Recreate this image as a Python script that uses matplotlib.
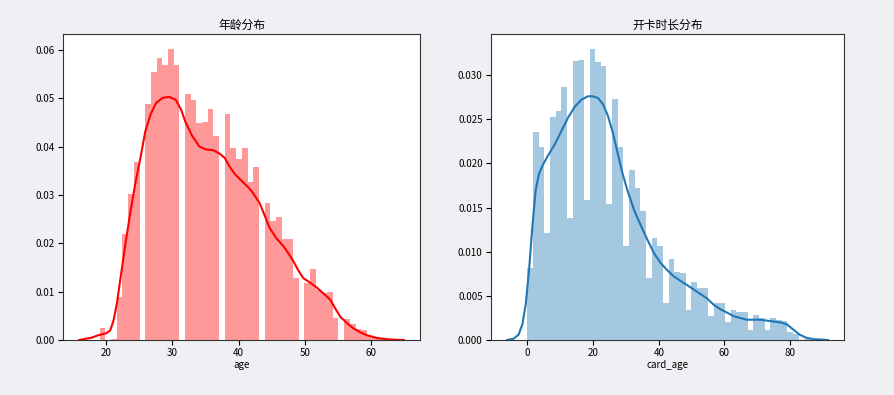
import numpy as np
import matplotlib
matplotlib.use('Agg')
import matplotlib.pyplot as plt

plt.rcParams['font.family'] = ['Noto Sans CJK SC', 'DejaVu Sans']
plt.rcParams['axes.unicode_minus'] = False

# 年龄直方图 (50 bins, 19 ~ 62)
age_range = (19, 62)
age_hist = [0.0024, 0.0, 0.0003, 0.0090, 0.0219, 0.0303, 0.0369, 0.0, 0.0488, 0.0555,
            0.0584, 0.0570, 0.0603, 0.0568, 0.0, 0.0510, 0.0496, 0.0448, 0.0451, 0.0477,
            0.0422, 0.0, 0.0468, 0.0397, 0.0375, 0.0398, 0.0326, 0.0357, 0.0, 0.0283,
            0.0246, 0.0254, 0.0210, 0.0210, 0.0129, 0.0, 0.0119, 0.0146, 0.0103, 0.0098,
            0.0100, 0.0046, 0.0, 0.0044, 0.0034, 0.0022, 0.0020, 0.0008, 0.0004, 0.0002]
# 年龄 kde 曲线
age_kde_x = [15.9, 17.8, 18.8, 20.0, 20.6, 21.1, 21.6, 22.1, 22.9, 23.7, 24.4, 25.2, 25.9,
             26.7, 27.5, 28.5, 29.5, 30.5, 31.3, 32.0, 33.0, 34.1, 35.1, 36.1, 37.1, 37.9,
             38.6, 39.4, 40.4, 41.4, 42.2, 43.2, 44.0, 44.7, 45.7, 46.8, 47.5, 48.3, 49.0,
             49.8, 50.8, 51.8, 52.8, 53.9, 54.6, 55.4, 56.4, 57.4, 58.4, 59.4, 61.0, 63.0, 65.0]
age_kde_y = [0.0, 0.0005, 0.001, 0.0014, 0.002, 0.0041, 0.0076, 0.0124, 0.0200, 0.0270,
             0.0325, 0.0380, 0.0432, 0.0467, 0.0490, 0.0501, 0.0503, 0.0497, 0.0477, 0.0450,
             0.0422, 0.0400, 0.0394, 0.0393, 0.0386, 0.0377, 0.0360, 0.0344, 0.0330, 0.0317,
             0.0304, 0.0283, 0.0256, 0.0232, 0.0211, 0.0194, 0.0180, 0.0163, 0.0145, 0.0128,
             0.0119, 0.0109, 0.0097, 0.0083, 0.0066, 0.0048, 0.0035, 0.0024, 0.0016, 0.0010,
             0.0004, 0.0001, 0.0]

# 开卡时长直方图 (50 bins, 0 ~ 86)
card_range = (0, 86)
card_hist = [0.0082, 0.0236, 0.0219, 0.0121, 0.0253, 0.0259, 0.0286, 0.0138, 0.0316, 0.0317,
             0.0158, 0.0330, 0.0315, 0.0310, 0.0154, 0.0273, 0.0218, 0.0107, 0.0193, 0.0172,
             0.0146, 0.0070, 0.0116, 0.0107, 0.0042, 0.0092, 0.0077, 0.0076, 0.0034, 0.0066,
             0.0059, 0.0059, 0.0027, 0.0042, 0.0042, 0.0020, 0.0034, 0.0032, 0.0032, 0.0011,
             0.0028, 0.0025, 0.0011, 0.0025, 0.0023, 0.0021, 0.0009, 0.0007, 0.0, 0.0001]
card_kde_x = [-6.2, -4.2, -2.7, -1.5, -0.5, 0.5, 1.5, 2.5, 3.5, 4.8, 6.3, 8.4, 10.4, 12.4,
              14.4, 16.4, 18.4, 19.9, 21.5, 23.0, 24.5, 26.0, 27.5, 29.0, 30.5, 32.5, 34.6,
              36.6, 38.6, 40.6, 42.6, 44.6, 46.6, 48.7, 50.7, 52.7, 54.7, 56.7, 58.7, 60.8,
              62.8, 64.8, 66.8, 68.8, 70.8, 72.8, 74.9, 76.9, 78.9, 80.9, 82.9, 84.9, 87.0, 91.5]
card_kde_y = [0.0, 0.00015, 0.0006, 0.0018, 0.0041, 0.0079, 0.0128, 0.0169, 0.0188, 0.0199,
              0.0209, 0.0222, 0.0237, 0.0252, 0.0264, 0.0272, 0.0276, 0.0276, 0.0274, 0.0267,
              0.0254, 0.0235, 0.0211, 0.0188, 0.0169, 0.0147, 0.0129, 0.0113, 0.0098, 0.0087,
              0.0079, 0.0072, 0.0067, 0.0062, 0.0057, 0.0052, 0.0047, 0.0040, 0.0035, 0.0031,
              0.0027, 0.0025, 0.0023, 0.0023, 0.0023, 0.0022, 0.0021, 0.0020, 0.0018, 0.0012,
              0.0006, 0.00026, 0.0001, 0.0]


def distplot(ax, hist, rng, kde_x, kde_y, color, title, xlabel):
    edges = np.linspace(rng[0], rng[1], len(hist) + 1)
    ax.bar(edges[:-1], hist, width=np.diff(edges), align='edge',
           color=color, alpha=0.4, linewidth=0)
    ax.plot(kde_x, kde_y, color=color, lw=1.5)
    ax.set_title(title, fontsize=8.5, pad=4)
    ax.set_xlabel(xlabel, fontsize=7, labelpad=1)
    ax.tick_params(labelsize=7, pad=2.5)
    for sp in ax.spines.values():
        sp.set_color('#333333')


fig = plt.figure(figsize=(8.95, 3.95), dpi=100, facecolor='#eff0f3')
ax1 = fig.add_axes([0.0704, 0.1392, 0.3989, 0.7747])
ax2 = fig.add_axes([0.5486, 0.1392, 0.3944, 0.7747])

distplot(ax1, age_hist, age_range, age_kde_x, age_kde_y, 'r', '年龄分布', 'age')
distplot(ax2, card_hist, card_range, card_kde_x, card_kde_y, '#1f77b4', '开卡时长分布', 'card_age')

fig.savefig('out.png', dpi=100, facecolor=fig.get_facecolor())
